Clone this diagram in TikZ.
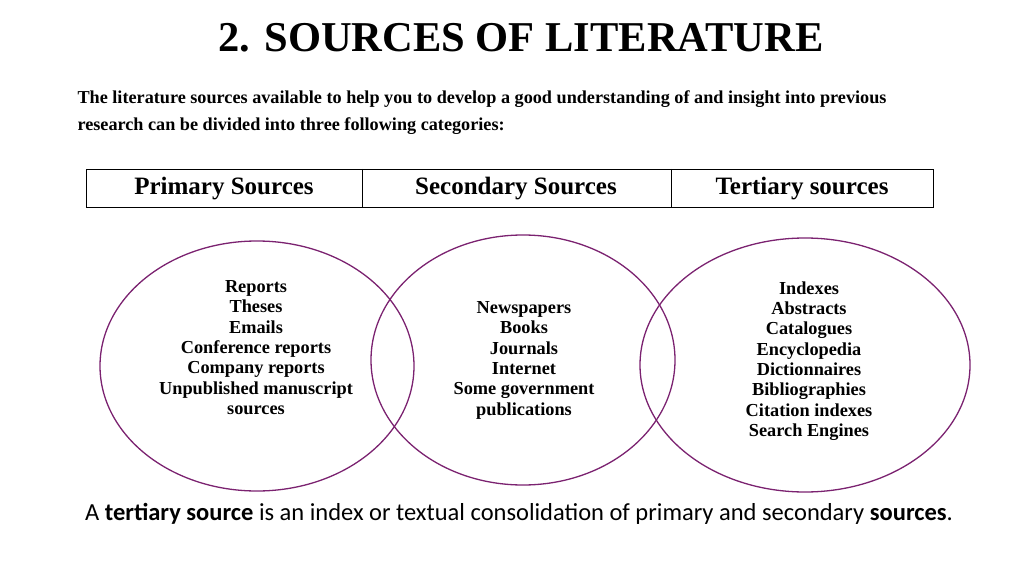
\documentclass[tikz,border=0pt]{standalone}
\usepackage{fontspec}
\setmainfont{Liberation Serif}
\newfontfamily\calib{Carlito}
\definecolor{purp}{HTML}{7B2270}
\begin{document}
\begin{tikzpicture}[x=1pt,y=-1pt,
  lst/.style={font=\fontsize{18.3}{20.3}\selectfont\bfseries,align=center,anchor=north},
  hd/.style={font=\fontsize{25}{28}\selectfont\bfseries},
  ell/.style={draw=purp,line width=1.3pt}]
\useasboundingbox (0,0) rectangle (1024,577);
\node[font=\fontsize{42.5}{44}\selectfont\bfseries] (title) at (521,38) {2. SOURCES OF LITERATURE};
\node[font=\fontsize{18.2}{27}\selectfont\bfseries,align=left,anchor=north west] (intro) at (74,87)
 {The literature sources available to help you to develop a good understanding of and insight into previous\\research can be divided into three following categories:};
\draw[line width=0.8pt] (86,169) rectangle (933,207);
\draw[line width=0.8pt] (362,169) -- (362,207) (671,169) -- (671,207);
\node[hd] (p) at (224,189) {Primary Sources};
\node[hd] (s) at (516,189) {Secondary Sources};
\node[hd] (t) at (802,189) {Tertiary sources};
\draw[ell] (257,366) ellipse [x radius=157,y radius=125];
\draw[ell] (523,360) ellipse [x radius=152,y radius=125];
\draw[ell] (805,365) ellipse [x radius=165,y radius=127];
\node[lst] (l1) at (256,277) {Reports\\Theses\\Emails\\Conference reports\\Company reports\\Unpublished manuscript\\sources};
\node[lst] (l2) at (524,298) {Newspapers\\Books\\Journals\\Internet\\Some government\\publications};
\node[lst] (l3) at (809,278) {Indexes\\Abstracts\\Catalogues\\Encyclopedia\\Dictionnaires\\Bibliographies\\Citation indexes\\Search Engines};
\node[font=\calib\fontsize{24.5}{28}\selectfont] (foot) at (519,514) {A \textbf{tertiary source} is an index or textual consolidation of primary and secondary \textbf{sources}.};
\end{tikzpicture}
\end{document}
